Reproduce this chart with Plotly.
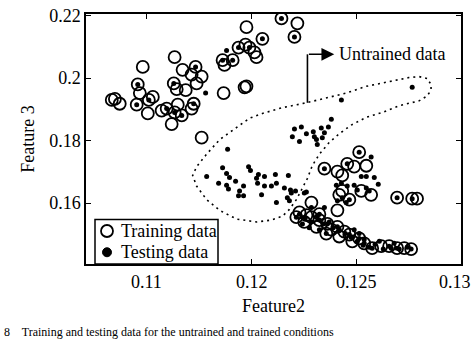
import plotly.graph_objects as go

# ---------------- data ----------------
# Training data (open circles); has_test = 1 where a testing dot sits in the centre
train_x = [0.11348, 0.11371, 0.11333, 0.11481, 0.11457, 0.11452, 0.11467, 0.11510, 0.11529, 0.11505,
           0.11571, 0.11595, 0.11619, 0.11633, 0.11667, 0.11648, 0.11633, 0.11629, 0.11643, 0.11686,
           0.11671, 0.11714, 0.11733, 0.11762, 0.11738, 0.11724, 0.11714, 0.11762, 0.11867, 0.11862,
           0.11910, 0.11871, 0.11967, 0.11976, 0.11938, 0.11971, 0.11990, 0.11976, 0.12014, 0.12024,
           0.12143, 0.12219, 0.12205, 0.12052,
           # middle cluster
           0.12514, 0.12457, 0.12548, 0.12348, 0.12410, 0.12433, 0.12490, 0.12433, 0.12467, 0.12524,
           0.12571, 0.12419, 0.12695, 0.12767, 0.12790, 0.12286,
           # lower band
           0.12229, 0.12214, 0.12286, 0.12324, 0.12310, 0.12362, 0.12381, 0.12410, 0.12443, 0.12467,
           0.12481, 0.12514, 0.12576, 0.12619, 0.12657, 0.12695, 0.12729, 0.12762, 0.12410, 0.12262,
           0.12324, 0.12252, 0.12357, 0.12419, 0.12538]
train_y = [0.19333, 0.19178, 0.19302, 0.20357, 0.19798, 0.19147, 0.19519, 0.19302, 0.19395, 0.18868,
           0.18961, 0.19023, 0.18527, 0.18899, 0.18806, 0.19147, 0.20667, 0.19829, 0.19643, 0.19612,
           0.20264, 0.20109, 0.20357, 0.20047, 0.19829, 0.19178, 0.19023, 0.18093, 0.19519, 0.20574,
           0.20574, 0.20419, 0.19705, 0.19736, 0.20977, 0.21070, 0.20977, 0.21628, 0.20822, 0.20667,
           0.21907, 0.21752, 0.21318, 0.21256,
           0.17628, 0.17256, 0.17194, 0.17101, 0.17008, 0.16884, 0.17163, 0.16388, 0.16109, 0.16388,
           0.16264, 0.16264, 0.16171, 0.16140, 0.16140, 0.16016,
           0.15705, 0.15550, 0.15550, 0.15457, 0.15240, 0.15333, 0.15147, 0.15240, 0.15085, 0.14992,
           0.14775, 0.14868, 0.14558, 0.14620, 0.14620, 0.14558, 0.14558, 0.14527, 0.15767, 0.15612,
           0.15643, 0.15395, 0.15023, 0.14930, 0.14713]
train_has_test = [0, 0, 0, 0, 1, 1, 0, 1, 0, 0,
                  0, 1, 0, 1, 1, 0, 0, 1, 0, 0,
                  0, 0, 1, 0, 0, 1, 0, 0, 0, 1,
                  1, 0, 0, 0, 1, 0, 1, 0, 0, 0,
                  1, 0, 1, 1,
                  1, 1, 0, 1, 0, 0, 0, 0, 1, 0,
                  0, 0, 1, 1, 0, 0,
                  0, 1, 0, 1, 0, 1, 0, 1, 0, 1,
                  0, 1, 1, 0, 1, 1, 0, 1, 0, 0,
                  1, 0, 1, 0, 1]

# Testing data (filled dots) not centred in a training circle
test_x = [0.11781, 0.11881, 0.11886, 0.12429, 0.12767,
          0.12238, 0.12205, 0.12195, 0.12229, 0.12262, 0.12295, 0.12333, 0.12367, 0.12381, 0.12300,
          0.12348, 0.12338, 0.12310, 0.12314,
          0.11862, 0.11786, 0.11881, 0.11895, 0.11843, 0.11881, 0.11890, 0.11924, 0.11962, 0.11943,
          0.11962, 0.11938, 0.11986, 0.11995, 0.12033, 0.12024, 0.12029, 0.12062, 0.12062, 0.12048,
          0.12095, 0.12119, 0.12114, 0.12176, 0.12157, 0.12186, 0.12190, 0.12171, 0.12181, 0.12119,
          0.12262, 0.12210, 0.12252,
          0.12571, 0.12605, 0.12524, 0.12548, 0.12586, 0.12405, 0.12429, 0.12457, 0.12490, 0.12548,
          0.12562, 0.12505, 0.12433, 0.12452, 0.12410,
          0.12229, 0.12257, 0.12286, 0.12314, 0.12343, 0.12371, 0.12390, 0.12419, 0.12448, 0.12476,
          0.12505, 0.12533, 0.12562, 0.12590, 0.12629, 0.12667, 0.12705, 0.12743, 0.12490, 0.12538,
          0.12610, 0.12681, 0.12243, 0.12276, 0.12324, 0.12514, 0.12286, 0.12348]
test_y = [0.19519, 0.20884, 0.17721, 0.19302, 0.19705,
          0.18434, 0.18372, 0.18124, 0.17969, 0.18217, 0.18279, 0.18403, 0.18434, 0.18682, 0.18124,
          0.18248, 0.18093, 0.18031, 0.17876,
          0.17132, 0.16853, 0.16946, 0.16822, 0.16636, 0.16574, 0.16450, 0.16698, 0.16543, 0.16388,
          0.16233, 0.16233, 0.17163, 0.17039, 0.16915, 0.16791, 0.16636, 0.16853, 0.16543, 0.16264,
          0.16543, 0.16636, 0.16915, 0.16884, 0.16481, 0.16419, 0.16326, 0.16171, 0.16078, 0.16016,
          0.16357, 0.16388, 0.16326,
          0.17473, 0.16605, 0.16853, 0.16853, 0.16822, 0.16574, 0.16636, 0.16543, 0.16574, 0.16481,
          0.16388, 0.16419, 0.16171, 0.16016, 0.16078,
          0.15643, 0.15519, 0.15395, 0.15581, 0.15333, 0.15395, 0.15209, 0.15147, 0.15023, 0.14899,
          0.14775, 0.14651, 0.14589, 0.14682, 0.14527, 0.14558, 0.14527, 0.14589, 0.15147, 0.14837,
          0.14775, 0.14713, 0.15333, 0.15209, 0.15147, 0.15023, 0.15860, 0.15860]

# Dotted outline around the untrained data
loop_x = [0.12838, 0.12800, 0.12752, 0.12657, 0.12548, 0.12452, 0.12357, 0.12262, 0.12148, 0.12052,
          0.11990, 0.11943, 0.11848, 0.11786, 0.11738, 0.11719, 0.11738, 0.11786, 0.11848, 0.11929,
          0.12024, 0.12095, 0.12148, 0.12181, 0.12214, 0.12243, 0.12267, 0.12290, 0.12324, 0.12371,
          0.12419, 0.12476, 0.12548, 0.12624, 0.12705, 0.12800, 0.12838, 0.12857, 0.12857, 0.12838]
loop_y = [0.19984, 0.20047, 0.20016, 0.19891, 0.19736, 0.19519, 0.19364, 0.19209, 0.19054, 0.18868,
          0.18713, 0.18496, 0.18031, 0.17566, 0.17163, 0.16884, 0.16543, 0.16109, 0.15767, 0.15488,
          0.15395, 0.15457, 0.15581, 0.15798, 0.16109, 0.16481, 0.16791, 0.17194, 0.17566, 0.17938,
          0.18217, 0.18496, 0.18744, 0.18899, 0.19116, 0.19271, 0.19426, 0.19612, 0.19798, 0.19984]

x_tickvals = [0.115, 0.12, 0.125, 0.13]
x_ticktext = ["0.11", "0.12", "0.125", "0.13"]
y_tickvals = [0.16, 0.18, 0.20, 0.22]
y_ticktext = ["0.16", "0.18", "0.2", "0.22"]

legend_names = ["Training data", "Testing data"]
x_title = "Feature2"
y_title = "Feature 3"
caption = "8    Training and testing data for the untrained and trained conditions"

# annotation anchor points (data units)
ANN_STEM_X, ANN_STEM_Y0, ANN_Y = 0.12267, 0.19209, 0.20760
ANN_TIP_X, ANN_TEXT_X = 0.12395, 0.12410

FONT = "Liberation Serif, Times New Roman, serif"
FS = 18

# ---------------- figure ----------------
all_test_x = test_x + [x for x, f in zip(train_x, train_has_test) if f]
all_test_y = test_y + [y for y, f in zip(train_y, train_has_test) if f]

fig = go.Figure()
fig.add_trace(go.Scatter(x=loop_x, y=loop_y, mode="lines", showlegend=False, hoverinfo="skip",
                         line=dict(color="black", width=1.6, dash="2px,4px")))
fig.add_trace(go.Scatter(x=train_x, y=train_y, mode="markers", showlegend=False, name=legend_names[0],
                         marker=dict(symbol="circle-open", size=12, color="black",
                                     line=dict(width=1.8, color="black"))))
fig.add_trace(go.Scatter(x=all_test_x, y=all_test_y, mode="markers", showlegend=False, name=legend_names[1],
                         marker=dict(symbol="circle", size=5, color="black")))

# arrow annotation
fig.add_shape(type="line", x0=ANN_STEM_X, x1=ANN_STEM_X, y0=ANN_STEM_Y0, y1=ANN_Y,
              line=dict(color="black", width=1.6))
fig.add_annotation(x=ANN_TIP_X, y=ANN_Y, ax=ANN_STEM_X, ay=ANN_Y, axref="x", ayref="y",
                   text="", showarrow=True, arrowhead=2, arrowsize=1.6, arrowwidth=1.6,
                   arrowcolor="black")
fig.add_annotation(x=ANN_TEXT_X, y=ANN_Y, text="Untrained data", showarrow=False,
                   xanchor="left", yanchor="middle", font=dict(size=FS, color="black", family=FONT))

# manual legend box (paper coordinates)
LEG_X0, LEG_X1, LEG_Y0, LEG_Y1 = 0.024, 0.352, 0.0, 0.178
SYM_X, TXT_X, ROW_Y = 0.056, 0.088, [0.132, 0.047]
fig.add_shape(type="rect", xref="paper", yref="paper", x0=LEG_X0, x1=LEG_X1, y0=LEG_Y0, y1=LEG_Y1,
              line=dict(color="black", width=1.5), fillcolor="white", layer="above")
fig.add_shape(type="circle", xref="paper", yref="paper", xsizemode="pixel", ysizemode="pixel",
              xanchor=SYM_X, yanchor=ROW_Y[0], x0=-6, x1=6, y0=-6, y1=6,
              line=dict(color="black", width=1.8), layer="above")
fig.add_shape(type="circle", xref="paper", yref="paper", xsizemode="pixel", ysizemode="pixel",
              xanchor=SYM_X, yanchor=ROW_Y[1], x0=-4.5, x1=4.5, y0=-4.5, y1=4.5,
              line=dict(color="black", width=1), fillcolor="black", layer="above")
for name, ry in zip(legend_names, ROW_Y):
    fig.add_annotation(x=TXT_X, y=ry, xref="paper", yref="paper", text=name, showarrow=False,
                       xanchor="left", yanchor="middle", font=dict(size=FS, color="black", family=FONT))

# x tick labels (drawn as text so they sit where the reference has them)
for i, (v, t) in enumerate(zip(x_tickvals, x_ticktext)):
    last = i == len(x_tickvals) - 1
    fig.add_annotation(x=v, y=0, xref="x", yref="paper", text=t, showarrow=False,
                       xanchor="right" if last else "center", yanchor="top",
                       xshift=12 if last else 0, yshift=-6,
                       font=dict(size=FS, color="black", family=FONT))
# x title
fig.add_annotation(x=0.5, y=0, xref="paper", yref="paper", text=x_title, showarrow=False,
                   xanchor="center", yanchor="middle", yshift=-42,
                   font=dict(size=FS, color="black", family=FONT))

# caption (mostly cut off in the reference)
fig.add_annotation(x=0, y=0, xref="paper", yref="paper", xanchor="left", yanchor="top",
                   xshift=-84, yshift=-59, text=caption,
                   showarrow=False, font=dict(size=12, color="black", family=FONT))

axis_common = dict(showline=True, linecolor="black", linewidth=1.5, mirror="ticks",
                   ticks="inside", ticklen=5, tickcolor="black", tickwidth=1.2,
                   showgrid=False, zeroline=False,
                   tickfont=dict(size=FS, color="black", family=FONT))
fig.update_xaxes(range=[0.11210, 0.13], tickvals=x_tickvals, showticklabels=False,
                 **axis_common)
fig.update_yaxes(range=[0.1405, 0.2205], tickvals=y_tickvals, ticktext=y_ticktext,
                 ticklabeloverflow="allow",
                 title=dict(text=y_title, font=dict(size=FS, color="black", family=FONT), standoff=10),
                 **axis_common)

fig.update_layout(
    width=474, height=339,
    margin=dict(l=86, r=13, t=6, b=75),
    paper_bgcolor="white", plot_bgcolor="white",
    font=dict(family=FONT, color="black"),
    showlegend=False,
)

fig.write_html("out.html")
